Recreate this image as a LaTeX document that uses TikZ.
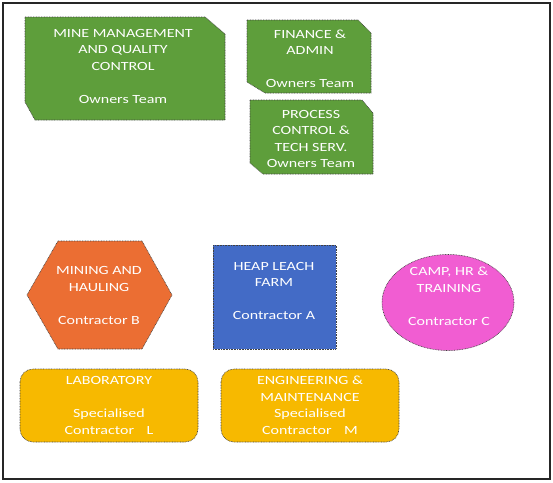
\documentclass[tikz,border=0pt]{standalone}
\usepackage{fontspec}
\setmainfont{Carlito}[FakeStretch=1.28]
\definecolor{ogreen}{HTML}{5E9E3B}
\definecolor{oorange}{HTML}{EB6E33}
\definecolor{oblue}{HTML}{436BC6}
\definecolor{opink}{HTML}{F15DD2}
\definecolor{ogold}{HTML}{F7B900}
\begin{document}
\begin{tikzpicture}[x=1pt,y=-1pt,
  box/.style={draw=black!75, line width=0.6pt, dash pattern=on 0.8pt off 0.8pt},
  lbl/.style={text=white, font=\fontsize{12.5}{16.5}\selectfont, align=center, inner sep=0pt}]
\useasboundingbox (0,0) rectangle (553,482);
\fill[white] (0,0) rectangle (553,482);
\draw[black!85, line width=1.2pt] (3,3) rectangle (550,479);
% owners team boxes
\draw[box, fill=ogreen] (25,17) -- (205,17) -- (225,34) -- (225,120) -- (35,120) -- (25,102) -- cycle;
\node[lbl] (mine) at (123,66) {MINE MANAGEMENT\\AND QUALITY\\CONTROL\\[16.5pt]Owners Team};
\draw[box, fill=ogreen] (247,20) -- (358,20) -- (371,33) -- (371,93) -- (265,93) -- (247,82) -- cycle;
\node[lbl] (fin) at (310,59) {FINANCE \&\\ADMIN\\[16.5pt]Owners Team};
\draw[box, fill=ogreen] (250,100) -- (362,100) -- (373,113) -- (373,174) -- (263,174) -- (250,163) -- cycle;
\node[lbl] (proc) at (311,139) {PROCESS\\CONTROL \&\\TECH SERV.\\Owners Team};
% contractors
\draw[box, fill=oorange] (58,241) -- (142,241) -- (172,295) -- (142,349) -- (58,349) -- (27,295) -- cycle;
\node[lbl] (mining) at (99,295.5) {MINING AND\\HAULING\\[16.5pt]Contractor B};
\draw[box, fill=oblue] (213,245) rectangle (336,349);
\node[lbl] (heap) at (274,291) {HEAP LEACH\\FARM\\[16.5pt]Contractor A};
\draw[box, fill=opink] (448,302.5) ellipse [x radius=66, y radius=48];
\node[lbl] (camp) at (449,296.5) {CAMP, HR \&\\TRAINING\\[16.5pt]Contractor C};
\draw[box, fill=ogold, rounded corners=13pt] (20,369) rectangle (198,442);
\node[lbl] (lab) at (109,405.5) {LABORATORY\\[16.5pt]Specialised\\Contractor\quad L};
\draw[box, fill=ogold, rounded corners=13pt] (221,369) rectangle (399,442);
\node[lbl] (eng) at (310,405.5) {ENGINEERING \&\\MAINTENANCE\\Specialised\\Contractor\quad M};
\end{tikzpicture}
\end{document}
